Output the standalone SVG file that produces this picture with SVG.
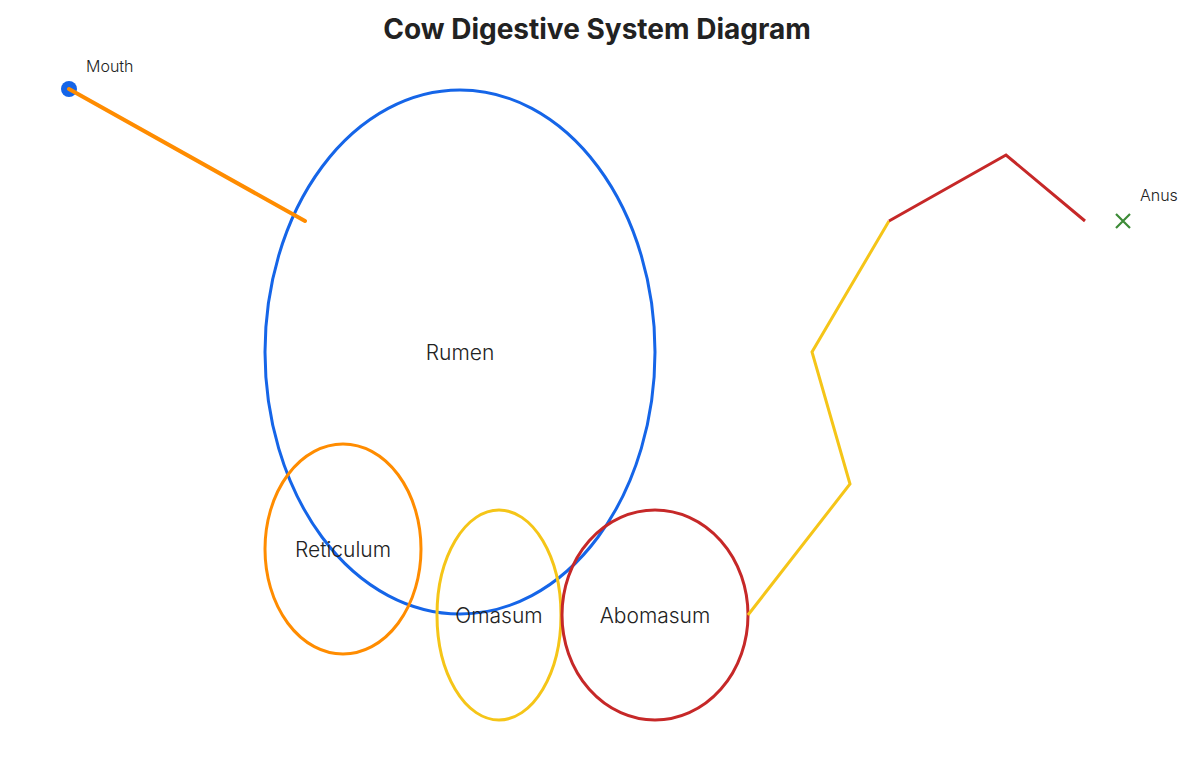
<svg xmlns="http://www.w3.org/2000/svg" width="1200" height="770" viewBox="0 0 1200 770">
<style>
text{font-family:Inter,"Noto Sans","Liberation Sans",sans-serif;fill:#222}
.lbl{font-size:21px;text-anchor:middle;dominant-baseline:central;font-weight:300}
.sm{font-size:16px;font-weight:300}
.organ{fill:none;stroke-width:3}
.conn{fill:none;stroke-width:3;stroke-linejoin:miter;stroke-linecap:butt}
</style>
<rect width="1200" height="770" fill="#fff"/>
<text x="597" y="39" font-size="28" font-weight="700" text-anchor="middle">Cow Digestive System Diagram</text>
<g id="rumen"><ellipse class="organ" cx="460" cy="352" rx="195" ry="262" stroke="#1565e8"/><text class="lbl" x="460" y="352">Rumen</text></g>
<g id="reticulum"><ellipse class="organ" cx="343" cy="549" rx="78" ry="105" stroke="#ff8c00"/><text class="lbl" x="343" y="549">Reticulum</text></g>
<g id="omasum"><ellipse class="organ" cx="499" cy="615" rx="62" ry="105" stroke="#f5c518"/><text class="lbl" x="499" y="615">Omasum</text></g>
<g id="abomasum"><ellipse class="organ" cx="655" cy="615" rx="93" ry="105" stroke="#c62828"/><text class="lbl" x="655" y="615">Abomasum</text></g>
<g id="mouth"><circle cx="69" cy="89" r="8" fill="#1565e8"/><text class="sm" x="86" y="72">Mouth</text></g>
<g id="connectors">
<line x1="69" y1="89" x2="305" y2="221" stroke="#ff8c00" stroke-width="4" stroke-linecap="round"/>
<polyline class="conn" points="748,615 850,484 812,352 889,221" stroke="#f5c518"/>
<polyline class="conn" points="889,221 1006,155 1085,221" stroke="#c62828"/>
</g>
<g id="anus"><path d="M1116,214 L1130,228 M1130,214 L1116,228" stroke="#3d8b37" stroke-width="2.2"/><text class="sm" x="1140" y="201">Anus</text></g>
</svg>
